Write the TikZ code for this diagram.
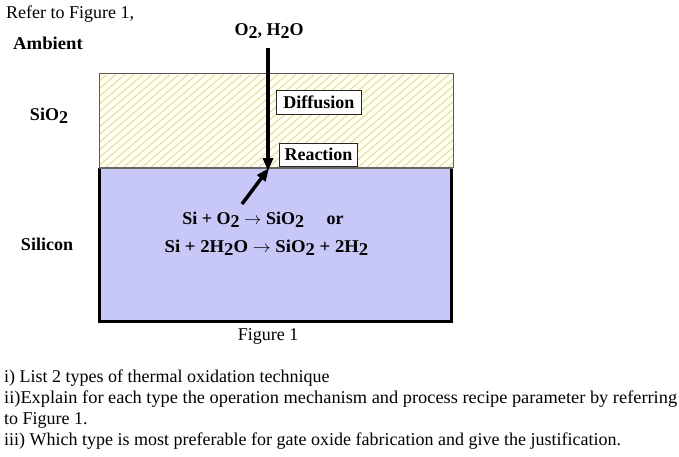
\documentclass[tikz,border=0pt]{standalone}
\usepackage{fontspec}
\setmainfont{Liberation Serif}
\usetikzlibrary{arrows.meta}
\definecolor{hatchc}{HTML}{E2D89A}
\definecolor{oxfill}{HTML}{FFFFF2}
\definecolor{sifill}{HTML}{C8C8F8}
\newcommand{\lowtwo}{\raisebox{-0.35ex}{2}}
\tikzset{
  lbl/.style={font=\bfseries\fontsize{18}{20}\selectfont, inner sep=0pt},
  boxlbl/.style={draw=black!85, line width=0.9pt, fill=white, font=\bfseries\fontsize{18}{20}\selectfont, inner sep=0pt, minimum height=24pt},
  eq/.style={font=\bfseries\fontsize{18}{20}\selectfont, inner sep=0pt},
  qtext/.style={font=\fontsize{18}{20}\selectfont, inner sep=0pt, anchor=base west},
  bigarrow/.style={line width=3.5pt, -{Triangle[length=13pt,width=10pt]}}
}
\begin{document}
\begin{tikzpicture}[x=1pt,y=-1pt]
\useasboundingbox (0,0) rectangle (679,456);
% oxide layer
\fill[oxfill] (99,73) rectangle (453,168);
\begin{scope}
\clip (99,73) rectangle (453,168);
\foreach \i in {-120,-111,...,460} {
  \draw[hatchc, line width=0.9pt] (\i,168) -- ++(110,-110*0.85);
}
\end{scope}
\draw[gray!70!black, line width=0.6pt] (99,168) -- (99,73) -- (453,73) -- (453,168);
% silicon
\fill[sifill] (99,168) rectangle (453,323);
\draw[black, line width=3pt] (99,168) -- (99,321.5) -- (451.5,321.5) -- (451.5,168);
\draw[gray!80!black, line width=1.2pt] (99,168) -- (453,168);
% labels
\node[qtext] (refer) at (6,18) {Refer to Figure 1,};
\node[lbl] (amb) at (48,43) {\scalebox{1.04}[1]{Ambient}};
\node[lbl] (sio) at (49,116) {SiO\lowtwo};
\node[lbl] (sil) at (47,244) {Silicon};
\node[lbl] (gas) at (269,31) {O\lowtwo, H\lowtwo O};
\node[boxlbl, minimum width=85pt] (diff) at (319,102.5) {Diffusion};
\node[boxlbl, minimum width=78pt, minimum height=23pt] (reac) at (318.5,154.5) {Reaction};
\coordinate (top) at (268,48);
\coordinate (surf) at (268,171);
\coordinate (tail) at (242,204);
\coordinate (hit) at (269,168);
\draw[bigarrow] (top) -- (surf);
\draw[bigarrow] (tail) -- (hit);
\node[eq] (eq1) at (263,220) {Si + O\lowtwo{} $\rightarrow$ SiO\lowtwo{} \quad or};
\node[eq] (eq2) at (266.5,248) {\scalebox{1.04}[1]{Si + 2H\lowtwo O $\rightarrow$ SiO\lowtwo{} + 2H\lowtwo}};
\node[font=\fontsize{18}{20}\selectfont, inner sep=0pt] (fig) at (268,336) {Figure 1};
\node[qtext] (q1) at (4,382) {i) List 2 types of thermal oxidation technique};
\node[qtext] (q2) at (4,403) {\scalebox{1.02}[1]{ii)Explain for each type the operation mechanism and process recipe parameter by referring}};
\node[qtext] (q3) at (4,424) {to Figure 1.};
\node[qtext] (q4) at (4,445) {iii) Which type is most preferable for gate oxide fabrication and give the justification.};
\end{tikzpicture}
\end{document}
